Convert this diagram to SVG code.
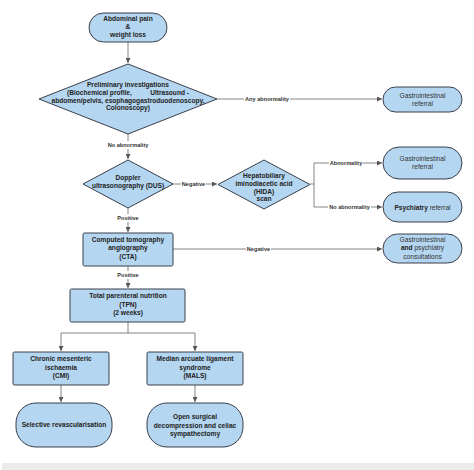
<svg xmlns="http://www.w3.org/2000/svg" width="474" height="470" viewBox="0 0 474 470">
<defs>
<marker id="ah" viewBox="0 0 6 6" refX="6" refY="3" markerWidth="5" markerHeight="5" orient="auto" markerUnits="userSpaceOnUse">
<path d="M0,0 L6,3 L0,6 z" fill="#555"/>
</marker>
<style>
.n{fill:#b5d6f0;stroke:#3a3f4a;stroke-width:1}
.t{font-family:"Liberation Sans",Arial,sans-serif;font-size:6.6px;fill:#222;text-anchor:middle;font-weight:bold}
.r{font-weight:normal;fill:#333}
.l{font-family:"Liberation Sans",Arial,sans-serif;font-size:5.6px;fill:#333;text-anchor:middle;font-weight:bold}
.c{fill:none;stroke:#666;stroke-width:0.8}
.lb{fill:#fff}
</style>
</defs>
<rect width="474" height="470" fill="#fff"/>
<rect x="2" y="463" width="472" height="7" fill="#ebebeb"/>
<g id="connectors">
<path class="c" d="M128,42 V63" marker-end="url(#ah)"/>
<path class="c" d="M217,99 H382" marker-end="url(#ah)"/>
<path class="c" d="M128,134 V159" marker-end="url(#ah)"/>
<path class="c" d="M173,184 H217" marker-end="url(#ah)"/>
<path class="c" d="M310,184 H314 M314,163 V207"/>
<path class="c" d="M314,163 H382" marker-end="url(#ah)"/>
<path class="c" d="M314,207 H382" marker-end="url(#ah)"/>
<path class="c" d="M128,208 V232" marker-end="url(#ah)"/>
<path class="c" d="M173,249 H382" marker-end="url(#ah)"/>
<path class="c" d="M128,266 V288" marker-end="url(#ah)"/>
<path class="c" d="M128,322 V333 M61,333 H195"/>
<path class="c" d="M61,333 V351" marker-end="url(#ah)"/>
<path class="c" d="M195,333 V351" marker-end="url(#ah)"/>
<path class="c" d="M61,385 V402" marker-end="url(#ah)"/>
<path class="c" d="M195,385 V402" marker-end="url(#ah)"/>
<rect class="lb" x="244" y="95" width="46" height="8"/>
<text class="l" x="267" y="101">Any abnormality</text>
<rect class="lb" x="104" y="141" width="48" height="8"/>
<text class="l" x="128" y="147">No abnormality</text>
<rect class="lb" x="181" y="180" width="25" height="8"/>
<text class="l" x="193.5" y="186">Negative</text>
<rect class="lb" x="329" y="159" width="34" height="8"/>
<text class="l" x="346" y="165">Abnormality</text>
<rect class="lb" x="328" y="203" width="43" height="8"/>
<text class="l" x="349.5" y="209">No abnormality</text>
<rect class="lb" x="116" y="214" width="24" height="8"/>
<text class="l" x="128" y="220">Positive</text>
<rect class="lb" x="246" y="245" width="25" height="8"/>
<text class="l" x="258.5" y="251">Negative</text>
<rect class="lb" x="116" y="271" width="24" height="8"/>
<text class="l" x="128" y="277">Positive</text>
</g>
<g id="start">
<rect class="n" x="89" y="13" width="78" height="29" rx="14.5"/>
<text class="t" x="128" y="21">Abdominal pain</text>
<text class="t" x="128" y="29">&amp;</text>
<text class="t" x="128" y="37">weight loss</text>
</g>
<g id="prelim">
<polygon class="n" points="128,64 217,99 128,134 39,99"/>
<text class="t" x="128" y="87">Preliminary investigations</text>
<text class="t" x="128" y="95" xml:space="preserve">(Biochemical profile,          Ultrasound -</text>
<text class="t" x="128" y="102.5">abdomen/pelvis, esophagogastroduodenoscopy,</text>
<text class="t" x="128" y="110">Colonoscopy)</text>
</g>
<g id="gi1">
<rect class="n" x="383" y="87" width="79" height="25" rx="12.5"/>
<text class="t r" x="422.5" y="97.5">Gastrointestinal</text>
<text class="t r" x="422.5" y="105.5">referral</text>
</g>
<g id="dus">
<polygon class="n" points="128,160 173,184 128,208 83,184"/>
<text class="t" x="128" y="180">Doppler</text>
<text class="t" x="128" y="188">ultrasonography (DUS)</text>
</g>
<g id="hida">
<polygon class="n" points="264,160 310,184.5 264,209 218,184.5"/>
<text class="t" x="264" y="178">Hepatobiliary</text>
<text class="t" x="264" y="186">iminodiacetic acid</text>
<text class="t" x="264" y="194">(HIDA)</text>
<text class="t" x="264" y="201">scan</text>
</g>
<g id="gi2">
<rect class="n" x="383" y="147" width="79" height="32" rx="16"/>
<text class="t r" x="422.5" y="161">Gastrointestinal</text>
<text class="t r" x="422.5" y="169">referral</text>
</g>
<g id="psych">
<rect class="n" x="383" y="192" width="79" height="30" rx="15"/>
<text class="t r" x="422.5" y="209.5"><tspan font-weight="bold" fill="#222">Psychiatry</tspan> referral</text>
</g>
<g id="cta">
<rect class="n" x="83" y="233" width="90" height="33" rx="1.5"/>
<text class="t" x="128" y="241.5">Computed tomography</text>
<text class="t" x="128" y="250">angiography</text>
<text class="t" x="128" y="258.5">(CTA)</text>
</g>
<g id="gipsych">
<rect class="n" x="383" y="234" width="79" height="29" rx="14.5"/>
<text class="t r" x="422.5" y="241.5">Gastrointestinal</text>
<text class="t r" x="422.5" y="250"><tspan font-weight="bold" fill="#222">and</tspan> psychiatry</text>
<text class="t r" x="422.5" y="258.5">consultations</text>
</g>
<g id="tpn">
<rect class="n" x="70" y="289" width="115" height="33" rx="1.5"/>
<text class="t" x="128" y="298">Total parenteral nutrition</text>
<text class="t" x="128" y="306.5">(TPN)</text>
<text class="t" x="128" y="315">(2 weeks)</text>
</g>
<g id="cmi">
<rect class="n" x="13" y="352" width="96" height="33" rx="1.5"/>
<text class="t" x="61" y="361">Chronic mesenteric</text>
<text class="t" x="61" y="369.5">ischaemia</text>
<text class="t" x="61" y="378">(CMI)</text>
</g>
<g id="mals">
<rect class="n" x="147" y="352" width="96" height="33" rx="1.5"/>
<text class="t" x="195" y="361">Median arcuate ligament</text>
<text class="t" x="195" y="369.5">syndrome</text>
<text class="t" x="195" y="378">(MALS)</text>
</g>
<g id="revasc">
<rect class="n" x="16" y="403" width="96" height="44" rx="20"/>
<text class="t" x="64" y="427">Selective revascularisation</text>
</g>
<g id="surgery">
<rect class="n" x="147" y="403" width="96" height="44" rx="20"/>
<text class="t" x="195" y="419">Open surgical</text>
<text class="t" x="195" y="427.5">decompression and celiac</text>
<text class="t" x="195" y="436">sympathectomy</text>
</g>
</svg>
